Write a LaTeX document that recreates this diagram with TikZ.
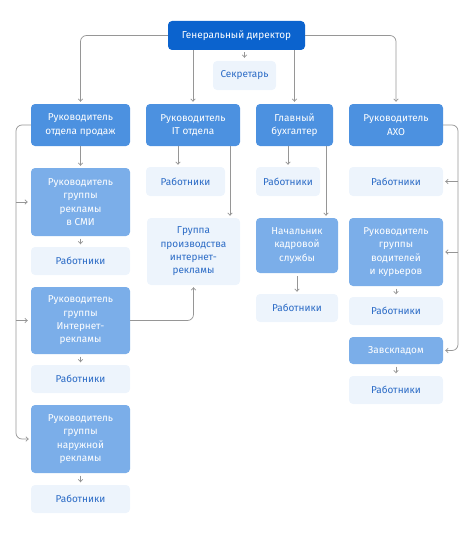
\documentclass[tikz,border=0pt]{standalone}
\usepackage{fontspec}
\setmainfont{Fira Sans}
\usepackage{tikz}
\usetikzlibrary{arrows.meta,positioning}
\definecolor{dirblue}{RGB}{11,99,206}
\definecolor{chiefblue}{RGB}{76,145,224}
\definecolor{groupblue}{RGB}{123,174,233}
\definecolor{staffbg}{RGB}{237,244,252}
\definecolor{stafftext}{RGB}{43,107,198}
\definecolor{linegray}{RGB}{150,150,150}

\begin{document}
\begin{tikzpicture}[x=1pt, y=-1pt, >={Straight Barb[length=2.5pt,width=4.5pt]},
    box/.style={rectangle, rounded corners=4pt, align=center, inner sep=0pt,
        font=\fontsize{10}{13.3}\selectfont},
    director/.style={box, fill=dirblue, text=white},
    chief/.style={box, fill=chiefblue, text=white, minimum height=42pt},
    grouphead/.style={box, fill=groupblue, text=white},
    staff/.style={box, fill=staffbg, text=stafftext, minimum height=28pt},
    link/.style={draw=linegray, line width=0.7pt, rounded corners=6pt, shorten >=2pt}]
    \useasboundingbox (0,0) rectangle (474,535);

    % Top level
    \node[director, minimum width=137pt, minimum height=29pt] (gd) at (236.5,35.5) {Генеральный директор};
    \node[staff, minimum width=63pt, minimum height=29pt] (sec) at (244.5,75.5) {Секретарь};

    % Department heads
    \node[chief, minimum width=99pt] (sales) at (80.5,125) {Руководитель\\отдела продаж};
    \node[chief, minimum width=94pt] (it) at (193,125) {Руководитель\\IT отдела};
    \node[chief, minimum width=77pt] (buh) at (294.5,125) {Главный\\бухгалтер};
    \node[chief, minimum width=94pt] (axo) at (396,125) {Руководитель\\АХО};

    % Sales department
    \node[grouphead, minimum width=99pt, minimum height=68pt] (smi) at (80.5,202) {Руководитель\\группы\\рекламы\\в СМИ};
    \node[staff, minimum width=99pt] (smistaff) at (80.5,261) {Работники};
    \node[grouphead, minimum width=99pt, minimum height=67pt] (inet) at (80.5,320.5) {Руководитель\\группы\\Интернет-\\рекламы};
    \node[staff, minimum width=99pt] (inetstaff) at (80.5,379) {Работники};
    \node[grouphead, minimum width=99pt, minimum height=68pt] (outdoor) at (80.5,439) {Руководитель\\группы\\наружной\\рекламы};
    \node[staff, minimum width=99pt] (outstaff) at (80.5,499) {Работники};

    % IT department
    \node[staff, minimum width=79pt, minimum height=29pt] (itstaff) at (185.5,181.5) {Работники};
    \node[staff, minimum width=93pt, minimum height=67pt] (grp) at (193.5,251.5) {Группа\\производства\\интернет-\\рекламы};

    % Accounting
    \node[staff, minimum width=64pt, minimum height=29pt] (buhstaff) at (288,181.5) {Работники};
    \node[grouphead, minimum width=82pt, minimum height=55pt] (hr) at (297,245.5) {Начальник\\кадровой\\службы};
    \node[staff, minimum width=82pt] (hrstaff) at (297,308) {Работники};

    % AXO
    \node[staff, minimum width=94pt, minimum height=29pt] (axostaff) at (396,181.5) {Работники};
    \node[grouphead, minimum width=94pt, minimum height=68pt] (drv) at (396,252) {Руководитель\\группы\\водителей\\и курьеров};
    \node[staff, minimum width=94pt] (drvstaff) at (396,311) {Работники};
    \node[grouphead, minimum width=94pt, minimum height=27pt] (zav) at (396,350.5) {Завскладом};
    \node[staff, minimum width=94pt] (zavstaff) at (396,390) {Работники};

    % Helper coordinates
    \coordinate (lft) at (16,0);
    \coordinate (rgt) at (458,0);
    \coordinate (itarr) at (178,146);
    \coordinate (itline) at (230,146);
    \coordinate (buhline) at (326,146);

    % Director links
    \draw[link,->] (gd.west) -| (sales.north);
    \draw[link,->] (gd.east) -| (axo.north);
    \draw[link,->] (it.north |- gd.south) -- (it.north);
    \draw[link,->] (buh.north |- gd.south) -- (buh.north);
    \draw[link,->, shorten <=2pt, shorten >=3pt] (gd.south -| sec.north) -- (sec.north);

    % Sales links
    \draw[link,->] (sales.south) -- (smi.north);
    \draw[link,->] (sales.west) -| (lft |- outdoor.west) -- (outdoor.west);
    \draw[link,->, shorten >=3pt] (lft |- smi.west) -- (smi.west);
    \draw[link,->, shorten >=3pt] (lft |- inet.west) -- (inet.west);
    \draw[link,->] (inet.east) -| (grp.south);
    \foreach \a/\b in {smi/smistaff, inet/inetstaff, outdoor/outstaff, drv/drvstaff, zav/zavstaff}
        \draw[link,->, shorten <=2.5pt, shorten >=2.5pt] (\a.south) -- (\b.north);

    % IT links
    \draw[link,->] (itarr) -- (itarr |- itstaff.north);
    \draw[link,->] (itline) -- (itline |- grp.north);

    % Accounting links
    \draw[link,->] (buhstaff.north |- buh.south) -- (buhstaff.north);
    \draw[link,->] (buhline) -- (buhline |- hr.north);
    \draw[link,->, shorten <=3pt] (hr.south) -- (hrstaff.north);

    % AXO links
    \draw[link,->] (axo.east) -| (rgt |- zav.east) -- (zav.east);
    \draw[link,->] (rgt |- axostaff.east) -- (axostaff.east);
    \draw[link,->] (rgt |- drv.east) -- (drv.east);
\end{tikzpicture}
\end{document}
